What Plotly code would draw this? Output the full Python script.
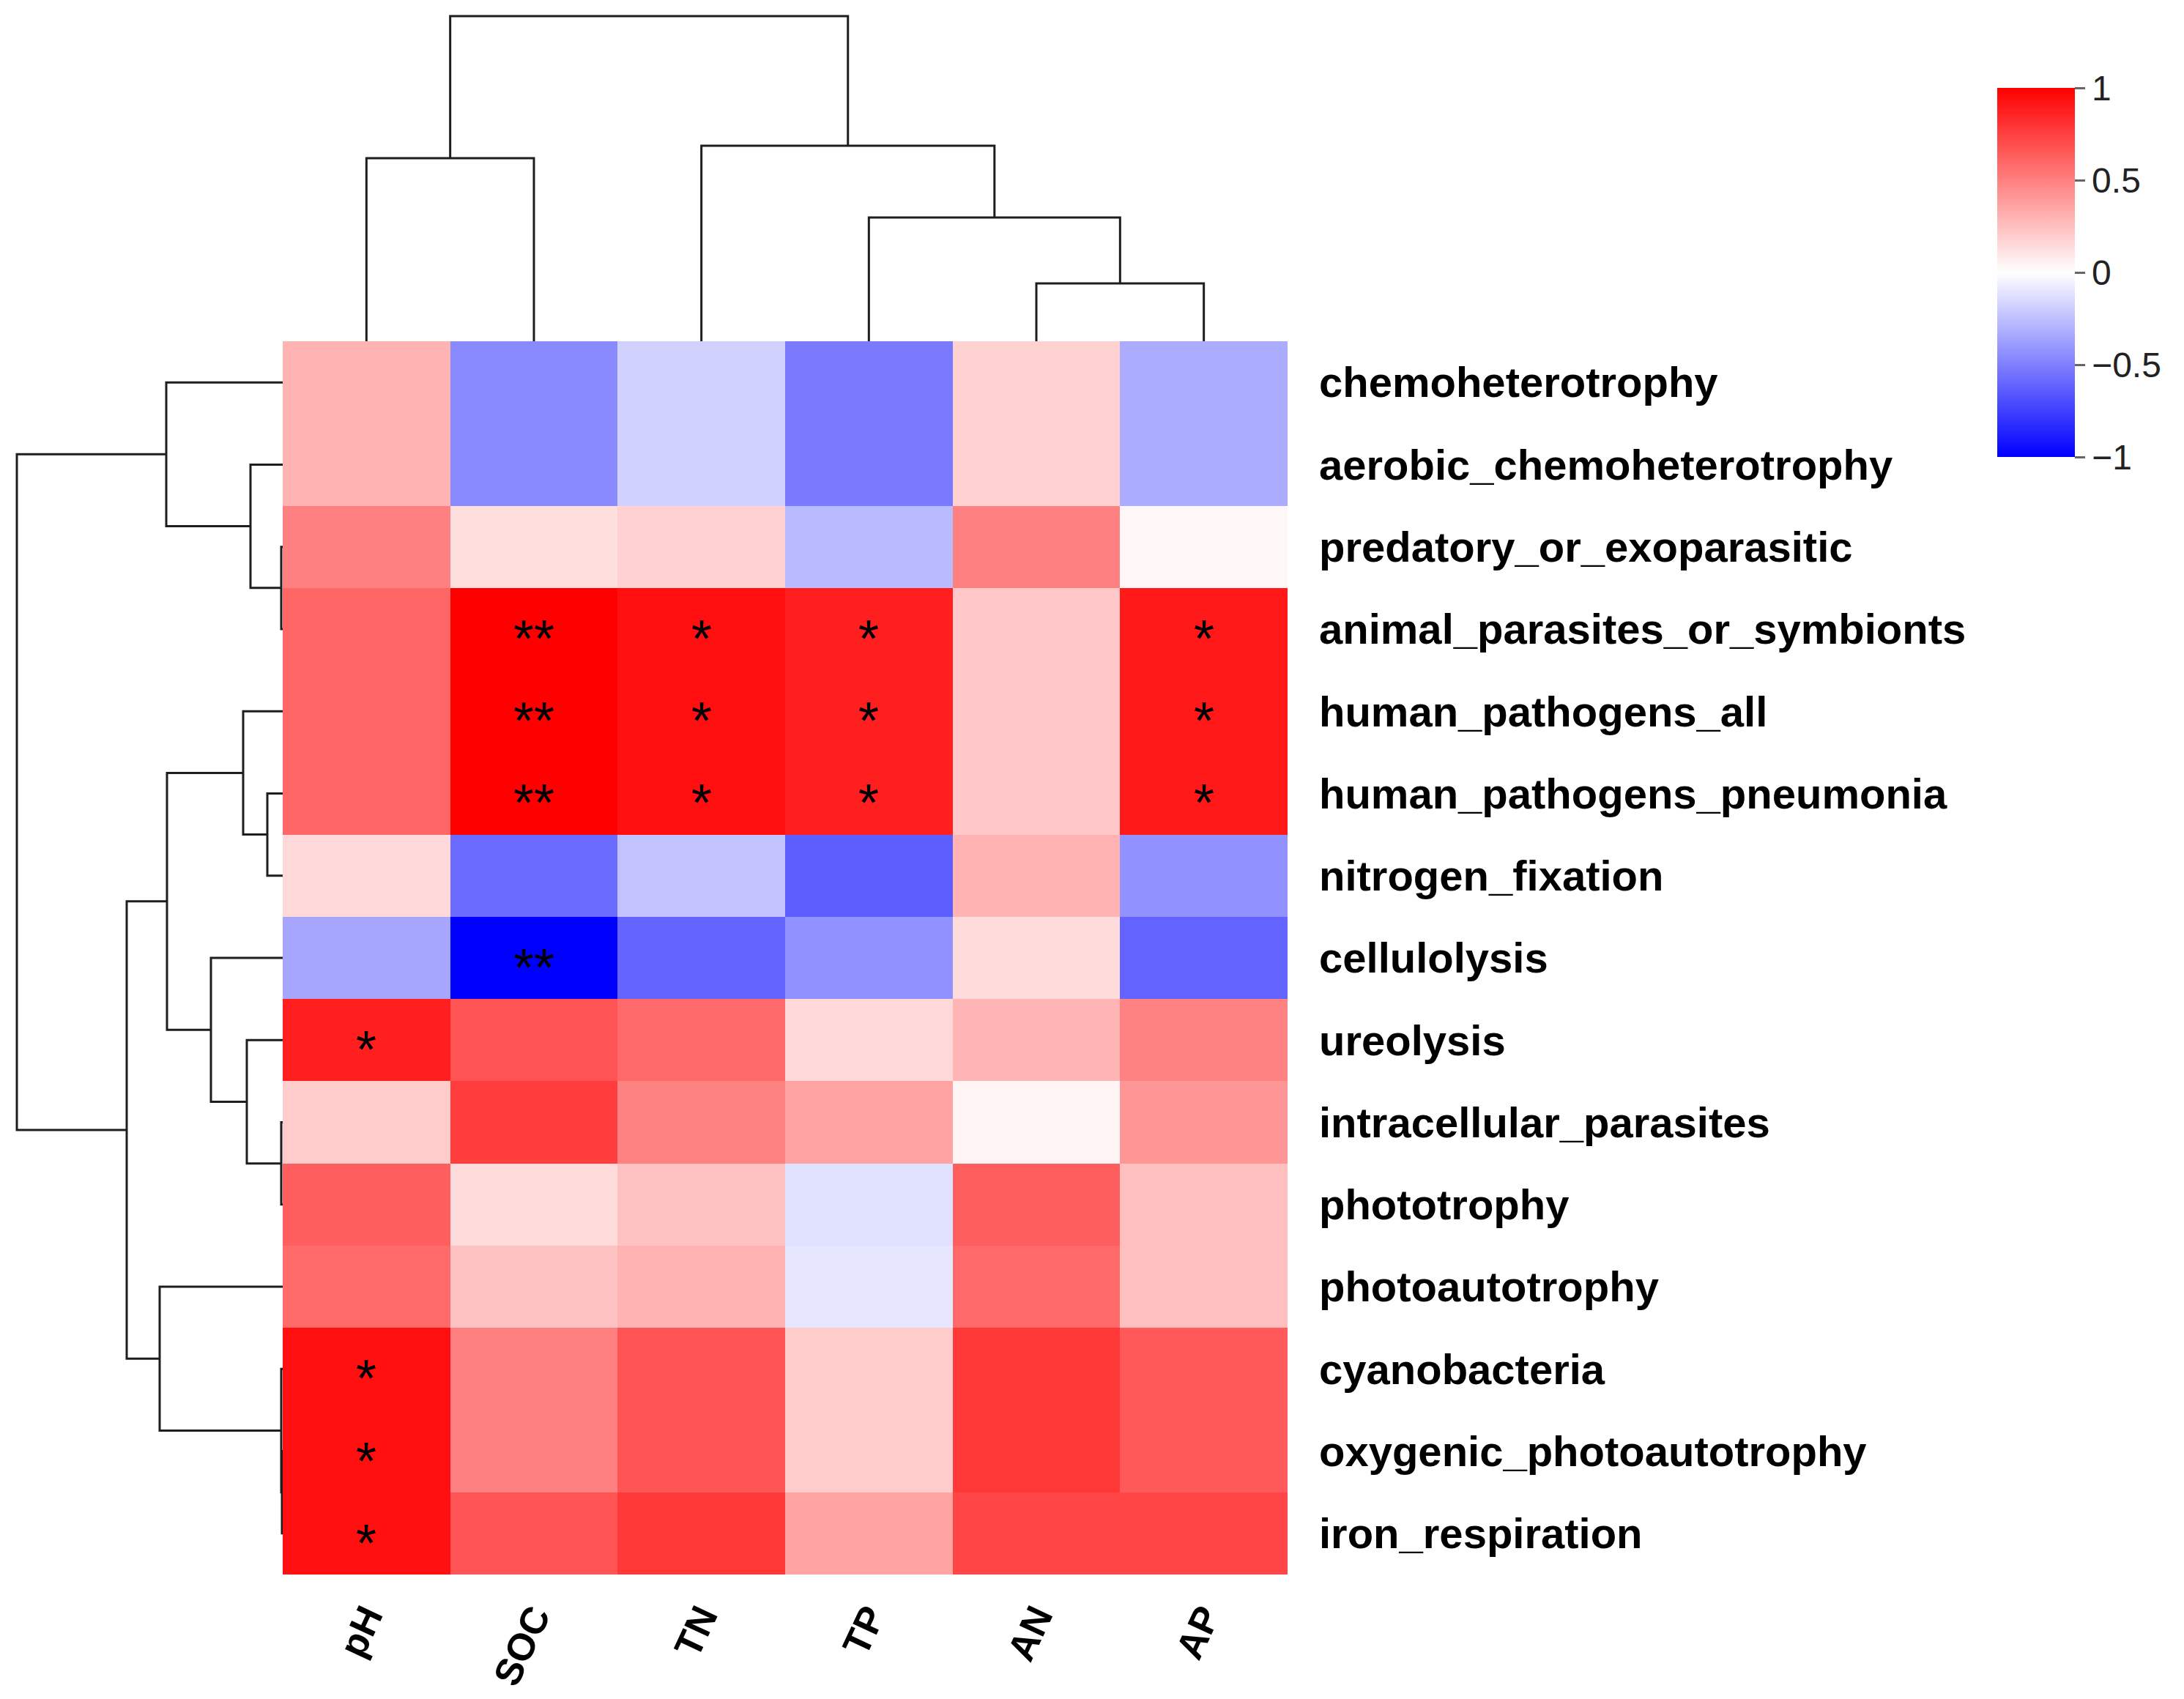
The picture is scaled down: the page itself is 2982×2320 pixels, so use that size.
import plotly.graph_objects as go

# ---------------- data ----------------
functions = [
    "chemoheterotrophy", "aerobic_chemoheterotrophy", "predatory_or_exoparasitic",
    "animal_parasites_or_symbionts", "human_pathogens_all", "human_pathogens_pneumonia",
    "nitrogen_fixation", "cellulolysis", "ureolysis", "intracellular_parasites",
    "phototrophy", "photoautotrophy", "cyanobacteria", "oxygenic_photoautotrophy",
    "iron_respiration",
]
variables = ["pH", "SOC", "TN", "TP", "AN", "AP"]

corr = [
    [0.30, -0.46, -0.18, -0.52, 0.18, -0.33],
    [0.30, -0.46, -0.18, -0.52, 0.18, -0.33],
    [0.50, 0.13, 0.18, -0.27, 0.50, 0.03],
    [0.60, 1.00, 0.94, 0.88, 0.22, 0.90],
    [0.60, 1.00, 0.94, 0.88, 0.22, 0.90],
    [0.60, 1.00, 0.94, 0.88, 0.22, 0.90],
    [0.15, -0.58, -0.24, -0.63, 0.30, -0.43],
    [-0.35, -1.00, -0.61, -0.43, 0.14, -0.61],
    [0.88, 0.67, 0.59, 0.15, 0.29, 0.49],
    [0.20, 0.76, 0.49, 0.36, 0.04, 0.41],
    [0.63, 0.14, 0.24, -0.12, 0.63, 0.25],
    [0.58, 0.24, 0.30, -0.10, 0.59, 0.25],
    [0.94, 0.50, 0.67, 0.20, 0.78, 0.65],
    [0.94, 0.50, 0.67, 0.20, 0.78, 0.65],
    [0.94, 0.67, 0.78, 0.36, 0.73, 0.73],
]

signif = [
    ["", "", "", "", "", ""],
    ["", "", "", "", "", ""],
    ["", "", "", "", "", ""],
    ["", "**", "*", "*", "", "*"],
    ["", "**", "*", "*", "", "*"],
    ["", "**", "*", "*", "", "*"],
    ["", "", "", "", "", ""],
    ["", "**", "", "", "", ""],
    ["*", "", "", "", "", ""],
    ["", "", "", "", "", ""],
    ["", "", "", "", "", ""],
    ["", "", "", "", "", ""],
    ["*", "", "", "", "", ""],
    ["*", "", "", "", "", ""],
    ["*", "", "", "", "", ""],
]

# dendrogram merges (child_a, child_b, height); leaves are 0..n-1, new nodes n, n+1, ...
row_merges = [
    (2, 3, 2), (1, 15, 44), (0, 16, 159),
    (5, 6, 21), (4, 18, 54),
    (9, 10, 2), (8, 20, 49), (7, 21, 98),
    (19, 22, 158),
    (13, 14, 1), (12, 24, 2), (11, 25, 168),
    (23, 26, 213),
    (17, 27, 363),
]
col_merges = [
    (4, 5, 79), (3, 6, 169), (2, 7, 267), (0, 1, 250), (9, 8, 444),
]

cbar_tickvals = [1, 0.5, 0, -0.5, -1]
cbar_ticktext = ["1", "0.5", "0", "\u22120.5", "\u22121"]

# ---------------- layout geometry (pixels) ----------------
W, H = 2982, 2320
hm_left, hm_right = 378, 1750
hm_top, hm_bottom = 458, 2142


def px_x(p):
    return p / W


def px_y(p):
    return 1 - p / H


def dendro(merges, n):
    pos = {i: float(i) for i in range(n)}
    hgt = {i: 0.0 for i in range(n)}
    leaf_coord, height = [], []
    for k, (a, b, h) in enumerate(merges):
        node = n + k
        pa, pb = pos[a], pos[b]
        leaf_coord += [pa, pa, pb, pb, None]
        height += [hgt[a], h, h, hgt[b], None]
        pos[node] = (pa + pb) / 2
        hgt[node] = h
    return leaf_coord, height


FONT = "Liberation Sans, Arial, sans-serif"
LINE = dict(color="#1e1e1e", width=3)

fig = go.Figure()

fig.add_trace(go.Heatmap(
    z=corr,
    x=list(range(len(variables))),
    y=list(range(len(functions))),
    zmin=-1, zmax=1,
    colorscale=[[0, "#0000ff"], [0.5, "#ffffff"], [1, "#ff0000"]],
    showscale=True,
    colorbar=dict(
        x=px_x(2719), xanchor="left",
        y=px_y(112), yanchor="top",
        len=(616 - 112) / H, lenmode="fraction",
        thickness=106, thicknessmode="pixels",
        xpad=0, ypad=0,
        outlinewidth=0,
        tickvals=cbar_tickvals, ticktext=cbar_ticktext,
        ticks="outside", ticklen=14, tickwidth=3, tickcolor="#666666",
        tickfont=dict(family=FONT, size=48, color="#222222"),
    ),
    xaxis="x", yaxis="y",
    hoverinfo="skip",
))

# row dendrogram
ry, rx = dendro(row_merges, len(functions))
fig.add_trace(go.Scatter(x=rx, y=ry, mode="lines", line=LINE,
                         xaxis="x2", yaxis="y2", hoverinfo="skip", showlegend=False))

# column dendrogram
cx, cy = dendro(col_merges, len(variables))
fig.add_trace(go.Scatter(x=cx, y=cy, mode="lines", line=LINE,
                         xaxis="x3", yaxis="y3", hoverinfo="skip", showlegend=False))

# significance stars
annotations = []
for i, row in enumerate(signif):
    for j, s in enumerate(row):
        if s:
            annotations.append(dict(
                x=j, y=i, xref="x", yref="y", text=s, showarrow=False,
                font=dict(family=FONT, size=72, color="black"),
                xanchor="center", yanchor="middle", yshift=-13,
            ))

n_r, n_c = len(functions), len(variables)

fig.update_layout(
    width=W, height=H,
    margin=dict(l=0, r=0, t=0, b=0),
    paper_bgcolor="white", plot_bgcolor="white",
    showlegend=False,
    annotations=annotations,
    xaxis=dict(
        domain=[px_x(hm_left), px_x(hm_right)],
        range=[-0.5, n_c - 0.5],
        tickvals=list(range(n_c)), ticktext=variables,
        tickangle=-65, ticks="", showgrid=False, zeroline=False, showline=False,
        tickfont=dict(family=FONT, size=52, color="black", weight="bold"),
        ticklabelstandoff=16,
        anchor="y",
    ),
    yaxis=dict(
        domain=[px_y(hm_bottom), px_y(hm_top)],
        range=[n_r - 0.5, -0.5],
        tickvals=list(range(n_r)), ticktext=functions,
        side="right", ticks="", showgrid=False, zeroline=False, showline=False,
        tickfont=dict(family=FONT, size=58, color="black", weight="bold"),
        ticklabelstandoff=42,
        anchor="x",
    ),
    xaxis2=dict(
        domain=[0, px_x(hm_left)],
        range=[hm_left, 0],
        visible=False, anchor="y2",
    ),
    yaxis2=dict(
        domain=[px_y(hm_bottom), px_y(hm_top)],
        range=[n_r - 0.5, -0.5],
        visible=False, anchor="x2",
    ),
    xaxis3=dict(
        domain=[px_x(hm_left), px_x(hm_right)],
        range=[-0.5, n_c - 0.5],
        visible=False, anchor="y3",
    ),
    yaxis3=dict(
        domain=[px_y(hm_top), 1],
        range=[0, hm_top],
        visible=False, anchor="x3",
    ),
)

fig.write_html("out.html")
